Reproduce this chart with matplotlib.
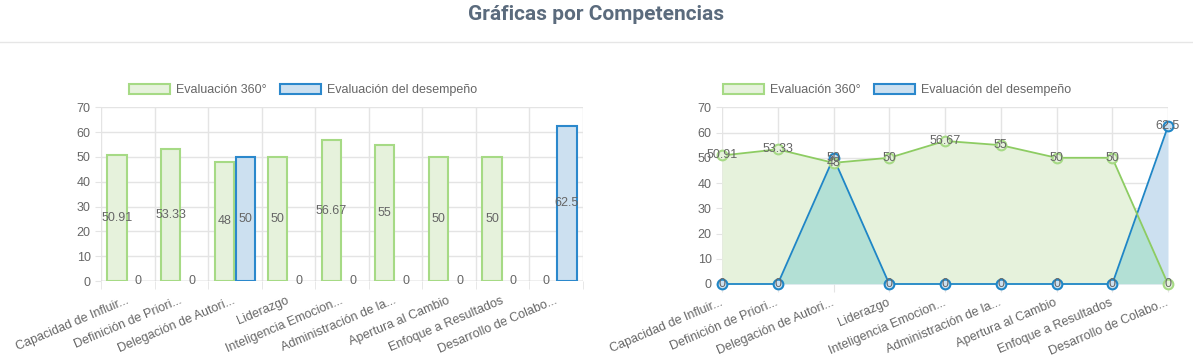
import numpy as np
import matplotlib
matplotlib.use("Agg")
import matplotlib.pyplot as plt
from matplotlib.patches import Patch

plt.rcParams['font.family'] = ['Liberation Sans', 'DejaVu Sans']

# data
categories = ["Capacidad de Influir...", "Definición de Priori...", "Delegación de Autori...",
              "Liderazgo", "Inteligencia Emocion...", "Administración de la...",
              "Apertura al Cambio", "Enfoque a Resultados", "Desarrollo de Colabo..."]
eval_360 = [50.91, 53.33, 48, 50, 56.67, 55, 50, 50, 0]
eval_desempeno = [0, 0, 50, 0, 0, 0, 0, 0, 62.5]
series_names = ["Evaluación 360°", "Evaluación del desempeño"]
y_ticks = [0, 10, 20, 30, 40, 50, 60, 70]

# colours
GREEN_FILL = '#e6f2dc'
GREEN_EDGE = '#a6da85'
GREEN_LINE = '#8dcc62'
BLUE_FILL = '#cce0f0'
BLUE_EDGE = '#2b88cc'
BLUE_LINE = '#1f86c6'
TEAL_FILL = '#b3e0d5'
GRID = '#e4e4e4'
TXT = '#666666'

fig = plt.figure(figsize=(11.93, 3.59), dpi=100)
W, H = 1193, 359

fig.text(596 / W, 1 - 15 / H, "Gráficas por Competencias", ha='center', va='center',
         fontsize=15, fontweight='bold', color='#5b6b7d', family=['Roboto', 'DejaVu Sans'])
fig.add_artist(plt.Line2D([0, 1], [1 - 42 / H, 1 - 42 / H], color='#e6e6e6', lw=1))

ax1 = fig.add_axes([101 / W, 1 - 281 / H, 482 / W, (281 - 107.3) / H])
ax2 = fig.add_axes([722 / W, 1 - 284 / H, 446 / W, (284 - 107.3) / H])


def style_axis(ax):
    for s in ax.spines.values():
        s.set_visible(False)
    ax.set_ylim(0, 70)
    ax.set_yticks(y_ticks)
    ax.yaxis.grid(True, color=GRID, lw=1)
    ax.set_axisbelow(True)
    ax.axhline(0, color='#c8c8c8', lw=1, zorder=1)
    ax.tick_params(axis='y', colors=GRID, labelcolor=TXT, labelsize=9, length=4.5, pad=3)
    ax.tick_params(axis='x', labelcolor=TXT, labelsize=9)


x = np.arange(len(categories))

# --- bar chart ---
style_axis(ax1)
ax1.set_xlim(-0.5, len(categories) - 0.5)
ax1.set_xticks(x)
ax1.set_xticks(np.arange(len(categories) + 1) - 0.5, minor=True)
ax1.xaxis.grid(True, which='minor', color=GRID, lw=1)
ax1.tick_params(axis='x', which='major', length=0, pad=14)
ax1.tick_params(axis='x', which='minor', length=6, colors=GRID)
ax1.set_xticklabels(categories, rotation=23, ha='right', va='center', rotation_mode='anchor')

bw = 0.36
off = 0.2
ax1.bar(x - off, eval_360, bw, color=GREEN_FILL, edgecolor=GREEN_EDGE,
        lw=[1.5 if v else 0 for v in eval_360], zorder=2)
ax1.bar(x + off, eval_desempeno, bw, color=BLUE_FILL, edgecolor=BLUE_EDGE,
        lw=[1.5 if v else 0 for v in eval_desempeno], zorder=2)
for i in range(len(categories)):
    ax1.text(x[i] - off, eval_360[i] / 2, f"{eval_360[i]:g}", ha='center', va='center',
             fontsize=9, color=TXT, zorder=3)
    ax1.text(x[i] + off, eval_desempeno[i] / 2, f"{eval_desempeno[i]:g}", ha='center',
             va='center', fontsize=9, color=TXT, zorder=3)

# --- line chart ---
style_axis(ax2)
ax2.set_xlim(0, len(categories) - 1)
ax2.set_xticks(x)
ax2.xaxis.grid(True, color=GRID, lw=1)
ax2.tick_params(axis='x', length=6, colors=GRID, labelcolor=TXT, pad=7)
ax2.set_xticklabels(categories, rotation=23, ha='right', va='center', rotation_mode='anchor')

g_poly = ax2.fill_between(x, 0, eval_360, color=GREEN_FILL, lw=0, zorder=1.5)
ax2.fill_between(x, 0, eval_desempeno, color=BLUE_FILL, lw=0, zorder=1.6)
ov = ax2.fill_between(x, 0, eval_desempeno, color=TEAL_FILL, lw=0, zorder=1.7)
ov.set_clip_path(g_poly.get_paths()[0], ax2.transData)

ax2.plot(x, eval_desempeno, color=BLUE_LINE, lw=1.3, marker='o', ms=7,
         mfc=BLUE_FILL, mec=BLUE_LINE, mew=1.5, zorder=3, clip_on=False)
ax2.plot(x, eval_360, color=GREEN_LINE, lw=1.3, marker='o', ms=7,
         mfc=GREEN_FILL, mec=GREEN_EDGE, mew=1.5, zorder=4, clip_on=False)
for i in range(len(categories)):
    ax2.text(x[i], eval_desempeno[i], f"{eval_desempeno[i]:g}", ha='center', va='center',
             fontsize=9, color=TXT, zorder=5)
    ax2.text(x[i], eval_360[i], f"{eval_360[i]:g}", ha='center', va='center',
             fontsize=9, color=TXT, zorder=5)

# legends
handles = [Patch(facecolor=GREEN_FILL, edgecolor=GREEN_EDGE, lw=1.5),
           Patch(facecolor=BLUE_FILL, edgecolor=BLUE_EDGE, lw=1.5)]
for ax, cx in [(ax1, 303), (ax2, 897)]:
    leg = ax.legend(handles, series_names, ncol=2, loc='center', frameon=False,
                    bbox_to_anchor=(cx / W, 1 - 90 / H), bbox_transform=fig.transFigure,
                    fontsize=9, handlelength=3.3, handleheight=0.8, handletextpad=0.5,
                    columnspacing=1.0, labelcolor=TXT)

fig.savefig("out.png", dpi=100)
